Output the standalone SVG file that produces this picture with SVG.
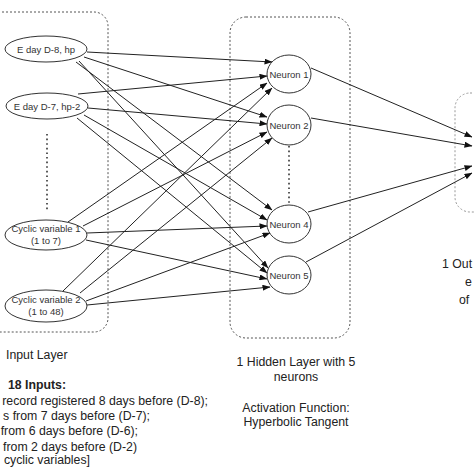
<svg xmlns="http://www.w3.org/2000/svg" width="474" height="474" viewBox="0 0 474 474">
<defs>
<marker id="arr" markerWidth="8" markerHeight="6" refX="7.5" refY="3" orient="auto" markerUnits="userSpaceOnUse">
<path d="M0,0 L8,3 L0,6 Z" fill="#111"/>
</marker>
<style>
.box{fill:none;stroke:#555;stroke-width:1;stroke-dasharray:2 2}
.obox{fill:none;stroke:#999;stroke-width:1;stroke-dasharray:2 2}
.dots{stroke:#333;stroke-width:1.6;stroke-dasharray:1.6 3}
.node{fill:#fff;stroke:#333;stroke-width:1}
.nt{font-family:"Liberation Sans",Arial,sans-serif;font-size:9.5px;fill:#333;text-anchor:middle}
.lbl{font-family:"Liberation Sans",Arial,sans-serif;font-size:12.3px;fill:#222}
.c line{stroke:#222;stroke-width:1;marker-end:url(#arr)}
</style>
</defs>
<rect width="474" height="474" fill="#fff"/>
<rect class="box" x="-20" y="12" width="128" height="320" rx="14"/>
<rect class="box" x="230" y="17" width="120" height="321" rx="16"/>
<rect class="obox" x="455" y="93" width="60" height="119" rx="15"/>
<line class="dots" x1="47" y1="134" x2="47" y2="211"/>
<line class="dots" x1="289" y1="146" x2="289" y2="205"/>
<g class="c" id="connectors">
<line x1="87" y1="52" x2="272" y2="62"/>
<line x1="84" y1="57" x2="267" y2="117"/>
<line x1="76" y1="62" x2="272" y2="210"/>
<line x1="79" y1="61" x2="268" y2="268"/>
<line x1="78" y1="94" x2="267" y2="76"/>
<line x1="88" y1="108" x2="267" y2="124"/>
<line x1="84" y1="115" x2="267" y2="220"/>
<line x1="77" y1="118" x2="267" y2="273"/>
<line x1="68" y1="222" x2="267" y2="83"/>
<line x1="83" y1="226" x2="267" y2="132"/>
<line x1="87" y1="233" x2="267" y2="226"/>
<line x1="86" y1="240" x2="267" y2="279"/>
<line x1="63" y1="291" x2="272" y2="88"/>
<line x1="80" y1="293" x2="272" y2="138"/>
<line x1="86" y1="301" x2="270" y2="233"/>
<line x1="87" y1="305" x2="270" y2="287"/>
<line x1="311" y1="68" x2="472" y2="137"/>
<line x1="311" y1="118" x2="472" y2="146"/>
<line x1="308" y1="212" x2="472" y2="166"/>
<line x1="306" y1="262" x2="472" y2="173"/>
</g>
<g id="in1"><ellipse class="node" cx="46" cy="49" rx="41" ry="13"/><text class="nt" x="46" y="52.5">E day D-8, hp</text></g>
<g id="in2"><ellipse class="node" cx="47" cy="106" rx="41" ry="13"/><text class="nt" x="47" y="109.5">E day D-7, hp-2</text></g>
<g id="in3"><ellipse class="node" cx="46" cy="235" rx="41" ry="15"/><text class="nt" x="46" y="232">Cyclic variable 1</text><text class="nt" x="46" y="244">(1 to 7)</text></g>
<g id="in4"><ellipse class="node" cx="46" cy="306" rx="41" ry="16"/><text class="nt" x="46" y="303">Cyclic variable 2</text><text class="nt" x="46" y="315">(1 to 48)</text></g>
<g id="h1"><ellipse class="node" cx="289" cy="74" rx="22" ry="19"/><text class="nt" x="289" y="77.5">Neuron 1</text></g>
<g id="h2"><ellipse class="node" cx="289" cy="125" rx="22" ry="20"/><text class="nt" x="289" y="128.5">Neuron 2</text></g>
<g id="h4"><ellipse class="node" cx="289" cy="224" rx="22" ry="19"/><text class="nt" x="289" y="227.5">Neuron 4</text></g>
<g id="h5"><ellipse class="node" cx="289" cy="275" rx="22" ry="19"/><text class="nt" x="289" y="278.5">Neuron 5</text></g>
<g id="labels">
<text class="lbl" x="6" y="359">Input Layer</text>
<text class="lbl" x="37" y="389" text-anchor="middle" font-weight="bold">18 Inputs:</text>
<text class="lbl" x="208" y="405" text-anchor="end">record registered 8 days before (D-8);</text>
<text class="lbl" x="150" y="420" text-anchor="end">s from 7 days before (D-7);</text>
<text class="lbl" x="138" y="435" text-anchor="end">from 6 days before (D-6);</text>
<text class="lbl" x="137" y="451" text-anchor="end">from 2 days before (D-2)</text>
<text class="lbl" x="90" y="464" text-anchor="end">cyclic variables]</text>
<text class="lbl" x="296" y="366" text-anchor="middle">1 Hidden Layer with 5</text>
<text class="lbl" x="296" y="381" text-anchor="middle">neurons</text>
<text class="lbl" x="296" y="412" text-anchor="middle">Activation Function:</text>
<text class="lbl" x="296" y="426" text-anchor="middle">Hyperbolic Tangent</text>
<text class="lbl" x="442" y="268">1 Out</text>
<text class="lbl" x="465" y="286">e</text>
<text class="lbl" x="459" y="304">of</text>
</g>
</svg>
